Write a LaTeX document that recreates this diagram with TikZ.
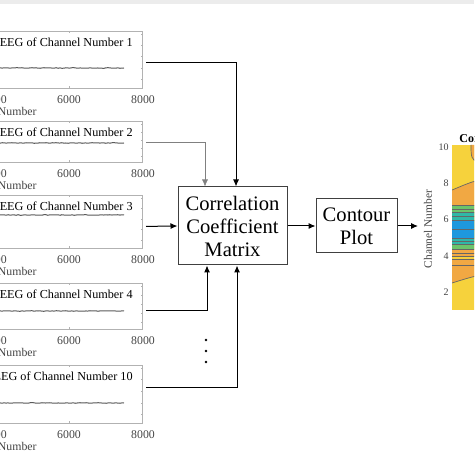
\documentclass[tikz,border=0pt]{standalone}
\usepackage{fontspec}
\setmainfont{Liberation Serif}
\usetikzlibrary{arrows.meta, decorations.pathmorphing}

\definecolor{plotyellow}{HTML}{F6D23C}
\definecolor{plotorange}{HTML}{F1A843}
\definecolor{plotgreen}{HTML}{6CC46A}
\definecolor{plotteal}{HTML}{2FB8A8}
\definecolor{plotblue}{HTML}{1E98DE}
\definecolor{axisgray}{HTML}{444444}

\begin{document}
\begin{tikzpicture}[x=0.5pt, y=-0.5pt,
		panel/.style={draw=gray!60, line width=0.4pt, inner sep=0pt, minimum width=150pt},
		box/.style={draw=black!75, line width=0.5pt, align=center, inner sep=0pt,
			font=\fontsize{10.3pt}{11.5pt}\selectfont},
		link/.style={line width=0.5pt, -{Latex[length=3.5pt, width=3pt]}},
		ticklabel/.style={font=\fontsize{5.9pt}{6pt}\selectfont, text=axisgray, inner sep=0pt},
		paneltitle/.style={font=\fontsize{6.1pt}{7pt}\selectfont, inner sep=0pt, anchor=east}]
		\useasboundingbox (0,0) rectangle (474,474);
		\clip (0,0) rectangle (474,474);
		\pgfmathsetseed{7}

		% top strip of the scan
		\fill[gray!15] (0,0) rectangle (474,4);

		% Draw the channel panels
		\foreach \n/\t/\b/\s in {1/31/88/68, 2/121/162/143, 3/195/248/215, 4/283/329/311, 10/365/423/403}{
			\pgfmathsetmacro\h{(\b-\t)*0.5}
			\node[panel, minimum height=\h pt, anchor=north east] (p\n) at (143,\t) {};
			\node[paneltitle] at (133,\t+11.5) {EEG of Channel Number \n};
			\draw[gray!70!black, line width=0.5pt, decorate, decoration={random steps, segment length=1pt, amplitude=0.15pt}] (-10,\s) -- (124,\s);
			% ticks
			\foreach \k in {0,...,4}
				\draw[gray!60, line width=0.3pt] (143,\t+3+\k*\h*0.4) -- (141,\t+3+\k*\h*0.4);
			\foreach \xt in {-5,69}{
				\draw[gray!60, line width=0.3pt] (\xt,\t) -- (\xt,\t+2);
				\draw[gray!60, line width=0.3pt] (\xt,\b) -- (\xt,\b-2);
			}
			\node[ticklabel] at (-5,\b+12) {4000};
			\node[ticklabel] at (69,\b+12) {6000};
			\node[ticklabel] at (143,\b+12) {8000};
			\node[ticklabel, anchor=east] at (37,\b+23) {Number};
		}

		% vertical dots
		\foreach \yd in {340,351,362}
			\fill (206,\yd) circle (1.3);

		% Draw the processing boxes
		\node[box, minimum width=54.5pt, minimum height=39pt] (mat) at (232.5,226) {Correlation\\Coefficient\\Matrix};
		\node[box, minimum width=40.5pt, minimum height=27pt] (cont) at (356.5,226) {Contour\\Plot};
		\coordinate (plotin) at (418,226);

		% connectors
		\draw[link] ([xshift=1.5pt, yshift=-1.25pt]p1.east) -| ([xshift=1.75pt]mat.north);
		\draw[link, draw=gray, line width=0.3pt] ([xshift=1.5pt]p2.east) -| ([xshift=-13.75pt]mat.north);
		\draw[link] ([xshift=1.5pt, yshift=-2.25pt]p3.east) -- (mat.west);
		\draw[link] ([xshift=1.5pt, yshift=-2pt]p4.east) -| ([xshift=-12.75pt]mat.south);
		\draw[link] ([xshift=1.5pt, yshift=3.5pt]p10.east) -| ([xshift=2.25pt]mat.south);
		\draw[link] (mat) -- (cont);
		\draw[link] (cont) -- (plotin);

		% Draw the contour plot
		\begin{scope}
			\clip (452,145) rectangle (480,310);
			\fill[plotyellow] (452,145) rectangle (480,310);
			\fill[plotorange] (471,145) .. controls (471,158) .. (480,166) -- (480,145) -- cycle;
			\fill[plotorange] (452,190) .. controls (462,186) and (470,182) .. (480,180) -- (480,256) -- (452,256) -- cycle;
			\fill[plotgreen] (452,205) rectangle (480,249);
			\fill[plotteal] (452,212) rectangle (480,244);
			\fill[plotblue] (452,220) rectangle (480,238);
			\fill[plotorange] (452,259) -- (480,259) -- (480,275) .. controls (468,278) .. (452,283) -- cycle;
			\draw[black!60, line width=0.35pt] (471,145) .. controls (471,158) .. (480,166);
			\draw[black!60, line width=0.35pt] (452,190) .. controls (462,186) and (470,182) .. (480,180);
			\foreach \yl in {205,209,212,216,220,229,238,241,244,249,253,256,259,265}
				\draw[black!60, line width=0.3pt] (452,\yl) -- (480,\yl);
			\draw[black!60, line width=0.35pt] (452,283) .. controls (468,278) .. (480,275);
		\end{scope}
		\node[font=\bfseries\fontsize{6pt}{7pt}\selectfont, anchor=west, inner sep=0pt] (ptitle) at (459,138) {Correlation Coefficient};
		\foreach \v/\yv in {10/147, 8/183, 6/219, 4/256, 2/292}
			\node[ticklabel, font=\fontsize{5pt}{6pt}\selectfont, anchor=east] at (449,\yv) {\v};
		\node[ticklabel, rotate=90, font=\fontsize{5.7pt}{6pt}\selectfont] (ylab) at (428,229) {Channel Number};

	\end{tikzpicture}
\end{document}
